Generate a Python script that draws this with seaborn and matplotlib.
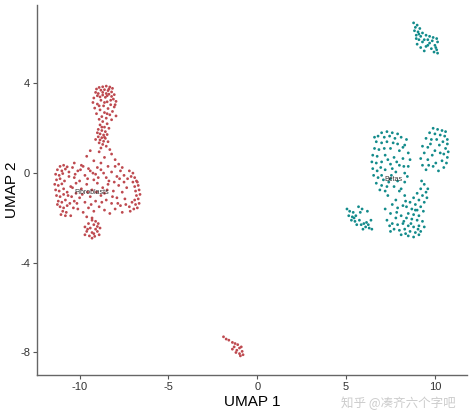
import numpy as np
import pandas as pd
import matplotlib
matplotlib.use("Agg")
import matplotlib.pyplot as plt
import seaborn as sns

# UMAP coordinates, grouped by cell type
fibroblast_pts = [
    # top blob
    (-8.9, 3.82), (-8.7, 3.85), (-8.5, 3.88), (-8.3, 3.84), (-8.15, 3.78), (-9.05, 3.75), (-8.8, 3.7),
    (-8.6, 3.72), (-8.4, 3.68), (-8.2, 3.62), (-9.1, 3.6), (-8.95, 3.55), (-8.05, 3.5), (-8.35, 3.52),
    (-8.7, 3.48), (-9.2, 3.35), (-8.55, 3.38), (-8.1, 3.3), (-7.95, 3.2), (-8.8, 3.25), (-9.25, 3.15),
    (-8.45, 3.18), (-8.25, 3.05), (-9.0, 3.08), (-8.65, 3.0), (-8.05, 2.95), (-9.15, 2.9), (-8.4, 2.88),
    (-8.85, 2.82), (-8.15, 2.75), (-8.6, 2.7), (-9.05, 2.65), (-8.3, 2.6), (-7.95, 2.55), (-8.75, 2.52),
    (-8.5, 2.45), (-8.9, 2.4), (-8.2, 2.38), (-8.7, 3.6), (-8.5, 3.55), (-8.35, 3.75), (-9.0, 3.45),
    (-8.2, 3.42), (-8.6, 3.15), (-8.0, 3.05), (-8.85, 3.4), (-8.45, 3.45), (-8.25, 3.25), (-8.9, 3.0),
    (-8.45, 2.65),
    # stem
    (-8.7, 2.3), (-8.45, 2.2), (-8.85, 2.15), (-8.6, 2.05), (-8.35, 2.0), (-8.95, 1.95), (-8.75, 1.9),
    (-8.55, 1.85), (-9.0, 1.8), (-8.85, 1.75), (-8.65, 1.7), (-8.45, 1.72), (-8.95, 1.62), (-8.75, 1.58),
    (-8.55, 1.55), (-8.85, 1.48), (-8.65, 1.42), (-8.4, 1.4), (-8.9, 1.35), (-8.7, 1.28), (-8.5, 1.2),
    (-8.8, 1.12), (-8.3, 1.05), (-9.1, 1.5), (-8.75, 2.05), (-8.6, 1.6),
    (-9.4, 1.0), (-8.9, 0.95), (-8.2, 0.85), (-9.6, 0.75), (-8.6, 0.7), (-8.0, 0.6), (-9.2, 0.55),
    (-8.8, 0.45), (-7.8, 0.4), (-9.9, 0.35), (-8.4, 0.3), (-7.6, 0.25), (-10.3, 0.45), (-9.5, 0.2),
    # main body, left edge
    (-11.1, 0.3), (-10.9, 0.35), (-10.7, 0.28), (-11.25, 0.15), (-11.0, 0.1), (-10.8, 0.18), (-11.35, -0.05),
    (-11.15, -0.1), (-10.95, -0.02), (-11.3, -0.3), (-11.1, -0.25), (-10.85, -0.35), (-11.4, -0.5),
    (-11.2, -0.55), (-11.0, -0.48), (-11.35, -0.75), (-11.15, -0.8), (-10.9, -0.7), (-11.3, -1.0),
    (-11.1, -1.05), (-10.9, -0.95), (-11.2, -1.25), (-11.0, -1.3), (-10.8, -1.2), (-11.1, -1.5),
    (-10.9, -1.55), (-10.7, -1.45), (-10.95, -1.7), (-10.75, -1.75), (-11.25, -1.4), (-10.6, -0.15),
    (-10.5, -0.6), (-10.65, -1.0), (-10.8, -1.9), (-11.05, -1.85),
    # main body, right edge
    (-7.2, 0.1), (-7.0, 0.0), (-7.1, -0.15), (-6.9, -0.2), (-6.8, -0.35), (-7.0, -0.4), (-6.7, -0.55),
    (-6.9, -0.6), (-6.65, -0.75), (-6.85, -0.8), (-6.6, -0.95), (-6.8, -1.0), (-6.7, -1.15), (-6.9, -1.2),
    (-6.65, -1.35), (-6.85, -1.4), (-7.05, -1.3), (-6.75, -1.55), (-6.95, -1.6), (-7.2, -1.5), (-7.4, -1.4),
    (-7.15, -1.7), (-7.3, -0.25), (-7.5, -0.1), (-6.75, -0.4),
    # main body, interior
    (-10.4, 0.25), (-10.1, 0.1), (-9.8, 0.3), (-10.3, -0.2), (-10.0, -0.35), (-9.7, -0.1), (-9.4, 0.1),
    (-9.1, -0.05), (-8.8, 0.15), (-8.5, -0.2), (-8.2, 0.05), (-7.9, -0.15), (-7.7, 0.1), (-10.4, -0.65),
    (-10.2, -0.9), (-9.9, -0.7), (-9.6, -0.5), (-9.3, -0.75), (-9.0, -0.45), (-8.7, -0.65), (-8.4, -0.5),
    (-8.1, -0.8), (-7.8, -0.55), (-7.6, -0.85), (-10.3, -1.25), (-10.0, -1.1), (-9.7, -1.3), (-9.4, -1.05),
    (-9.1, -1.25), (-8.8, -1.0), (-8.5, -1.2), (-8.2, -1.35), (-7.9, -1.1), (-7.7, -1.45), (-10.1, -1.6),
    (-9.8, -1.75), (-9.5, -1.55), (-9.2, -1.7), (-8.9, -1.5), (-8.6, -1.65), (-8.3, -1.8), (-8.0, -1.6),
    (-7.6, -1.75), (-9.6, -1.95), (-9.3, -2.0), (-10.5, -1.9), (-10.2, -0.45), (-9.2, -0.3), (-8.6, -0.9),
    (-7.5, -0.4), (-10.55, -1.35), (-8.0, 0.3), (-9.0, 0.25), (-10.7, -0.85),
    (-10.6, 0.05), (-10.25, -0.05), (-9.95, 0.15), (-9.55, -0.25), (-9.25, 0.0), (-8.95, -0.2),
    (-8.65, 0.0), (-8.35, -0.35), (-8.05, -0.4), (-7.75, -0.25), (-10.45, -1.05), (-10.15, -1.35),
    (-9.85, -0.95), (-9.55, -0.85), (-9.35, -1.4), (-9.05, -0.85), (-8.75, -1.3), (-8.45, -0.75),
    (-8.15, -1.05), (-7.85, -1.35), (-7.45, -1.15), (-7.35, -0.65), (-10.35, -1.55),
    # bottom blob
    (-9.3, -2.1), (-9.1, -2.15), (-9.5, -2.25), (-9.2, -2.3), (-8.95, -2.25), (-9.7, -2.4), (-9.4, -2.45),
    (-9.1, -2.5), (-8.85, -2.45), (-9.6, -2.6), (-9.3, -2.65), (-9.0, -2.6), (-9.7, -2.75), (-9.45, -2.8),
    (-9.15, -2.82), (-8.9, -2.75), (-9.3, -2.9), (-9.55, -2.5), (-9.0, -2.38), (-9.2, -2.7),
    # small satellite cluster
    (-1.9, -7.3), (-1.75, -7.4), (-1.6, -7.45), (-1.4, -7.55), (-1.25, -7.6), (-1.1, -7.65), (-1.3, -7.75),
    (-1.0, -7.8), (-0.9, -7.75), (-1.15, -7.9), (-0.85, -7.95), (-1.0, -8.05), (-0.8, -8.1), (-1.2, -8.0),
    (-0.95, -8.15), (-1.4, -7.85),
]

beta_pts = [
    # top island
    (8.8, 6.7), (9.0, 6.6), (8.9, 6.5), (9.15, 6.45), (8.85, 6.35), (9.05, 6.3), (9.3, 6.25), (8.95, 6.15),
    (9.2, 6.1), (9.5, 6.15), (9.7, 6.1), (9.9, 6.05), (10.1, 6.0), (9.1, 5.95), (9.6, 5.95), (9.85, 5.9),
    (10.15, 5.85), (9.3, 5.85), (9.7, 5.8), (9.0, 5.75), (10.0, 5.7), (9.5, 5.65), (9.8, 5.55), (10.1, 5.5),
    (9.4, 5.45), (9.95, 5.4), (10.15, 5.35), (9.2, 5.6), (8.95, 6.0), (10.05, 5.6), (9.1, 6.2), (9.6, 5.7),
    (9.4, 5.95),
    # left-top ring
    (7.0, 1.8), (7.3, 1.85), (7.6, 1.8), (7.9, 1.75), (6.8, 1.65), (7.15, 1.6), (7.45, 1.65), (7.75, 1.55),
    (8.1, 1.6), (8.4, 1.5), (6.7, 1.4), (7.0, 1.35), (7.3, 1.4), (7.9, 1.3), (8.3, 1.25), (6.6, 1.1),
    (6.85, 1.05), (7.5, 1.1), (8.0, 1.0), (8.5, 0.9), (6.5, 0.8), (6.75, 0.75), (7.2, 0.8), (7.7, 0.7),
    (8.2, 0.65), (6.45, 0.5), (6.7, 0.45), (7.0, 0.5), (7.5, 0.4), (8.0, 0.35), (8.5, 0.3), (6.5, 0.2),
    (6.75, 0.1), (7.2, 0.15), (7.8, 0.05), (8.3, 0.0), (6.55, -0.1), (6.8, -0.2), (7.1, -0.3), (7.5, -0.25),
    (7.9, -0.35), (8.3, -0.4), (6.7, -0.45), (7.0, -0.55), (7.3, -0.6), (7.7, -0.6), (8.1, -0.7), (6.9, -0.75),
    (7.4, -0.4), (7.6, 0.2), (6.6, 1.6), (7.0, -0.1), (8.6, 0.6),
    (7.15, 1.1), (7.65, 1.35), (8.2, 1.15), (6.95, 0.25), (7.35, 0.6), (7.85, 0.5), (8.25, 0.3),
    (7.55, -0.1), (8.45, -0.15), (7.2, -0.8),
    # right-top ring
    (9.9, 2.0), (10.15, 1.95), (10.4, 1.9), (10.6, 1.85), (9.7, 1.8), (10.0, 1.75), (10.3, 1.7), (10.55, 1.65),
    (10.7, 1.5), (9.5, 1.55), (9.8, 1.5), (10.45, 1.4), (10.7, 1.3), (9.3, 1.2), (9.6, 1.15), (10.6, 1.1),
    (10.75, 0.95), (9.4, 0.9), (10.5, 0.85), (10.7, 0.7), (9.2, 0.65), (9.6, 0.6), (10.4, 0.55), (10.65, 0.45),
    (9.3, 0.35), (9.9, 0.3), (10.5, 0.25), (10.2, 0.1), (9.5, 0.15), (10.0, 1.0), (10.25, 1.25),
    (9.75, 1.3), (10.1, 1.5), (9.85, 0.8), (10.3, 0.9), (10.05, 0.45), (9.65, 0.35),
    # bottom band
    (9.4, -0.5), (9.2, -0.7), (9.5, -0.85), (9.0, -0.9), (9.3, -1.0), (9.55, -1.1), (8.8, -1.1), (9.1, -1.2),
    (9.4, -1.3), (8.6, -1.3), (8.9, -1.4), (9.2, -1.5), (8.4, -1.5), (8.7, -1.6), (9.0, -1.65), (9.35, -1.7),
    (8.2, -1.45), (8.5, -1.8), (8.8, -1.85), (9.1, -1.9), (7.9, -1.55), (8.1, -1.9), (8.4, -2.0), (8.7, -2.05),
    (9.0, -2.1), (9.3, -2.15), (7.5, -1.8), (7.8, -2.0), (7.3, -2.1), (7.6, -2.25), (7.9, -2.3), (8.2, -2.25),
    (8.5, -2.35), (8.8, -2.4), (9.1, -2.35), (9.4, -2.4), (7.7, -2.5), (8.0, -2.55), (8.3, -2.5), (8.6, -2.6),
    (8.9, -2.65), (9.2, -2.6), (7.5, -2.6), (8.1, -2.75), (8.5, -2.8), (8.8, -2.85), (9.1, -2.75), (7.8, -1.2),
    (8.3, -1.0), (7.6, -1.4), (7.2, -1.6), (7.35, -1.0), (8.0, -0.8), (9.6, -0.7),
    (8.35, -1.25), (8.9, -1.65), (7.85, -1.75), (8.25, -2.15), (8.65, -2.25), (9.05, -2.5), (7.45, -2.35),
    (8.35, -2.7), (9.25, -0.35),
    # bottom-left arm
    (5.2, -1.7), (5.4, -1.75), (5.15, -1.9), (5.35, -1.95), (5.55, -1.9), (5.3, -2.1), (5.5, -2.15),
    (5.75, -2.1), (5.6, -2.3), (5.85, -2.3), (6.0, -2.25), (6.1, -2.4), (6.3, -2.45), (6.45, -2.5),
    (5.95, -2.5), (6.25, -2.3), (5.9, -1.6), (6.2, -1.7), (5.7, -1.5), (6.4, -2.1), (5.05, -1.6),
    (5.45, -2.0), (6.15, -2.2), (5.8, -1.75),
]

cell_types = ["Fibroblasts", "Betas"]
type_colors = ["#BE4A50", "#138B8B"]
label_pos = {"Fibroblasts": (-9.3, -0.85), "Betas": (7.65, -0.3)}

df = pd.concat([
    pd.DataFrame(fibroblast_pts, columns=["UMAP_1", "UMAP_2"]).assign(cell_type="Fibroblasts"),
    pd.DataFrame(beta_pts, columns=["UMAP_1", "UMAP_2"]).assign(cell_type="Betas"),
], ignore_index=True)

sns.set_style("ticks")
plt.rcParams["font.family"] = ["Liberation Sans", "DejaVu Sans"]
plt.rcParams["axes.unicode_minus"] = False

fig = plt.figure(figsize=(4.74, 4.12), dpi=100)
ax = fig.add_axes([0.078, 0.09, 0.907, 0.898])

sns.scatterplot(data=df, x="UMAP_1", y="UMAP_2", hue="cell_type",
                hue_order=cell_types, palette=type_colors,
                s=4, linewidth=0, legend=False, ax=ax)

for name, (lx, ly) in label_pos.items():
    ax.text(lx, ly, name, fontsize=5, color="#333333", ha="center", va="center")

ax.set_xlim(-12.4, 11.8)
ax.set_ylim(-9.0, 7.5)
ax.set_xticks([-10, -5, 0, 5, 10])
ax.set_yticks([-8, -4, 0, 4])
ax.set_xlabel("UMAP 1", fontsize=11, color="black", labelpad=2)
ax.set_ylabel("UMAP 2", fontsize=11, color="black", labelpad=1)
ax.tick_params(axis="both", which="both", direction="out", length=3, width=0.8,
               color="#555555", labelsize=8, labelcolor="#333333",
               top=False, right=False, pad=2)
ax.grid(False)
for side in ["top", "right"]:
    ax.spines[side].set_visible(False)
for side in ["left", "bottom"]:
    ax.spines[side].set_color("#666666")
    ax.spines[side].set_linewidth(1.0)
ax.set_facecolor("white")
fig.patch.set_facecolor("white")

fig.text(0.84, 0.022, "知乎 @凑齐六个字吧", fontsize=9, color="#CCCCCC",
         ha="center", va="center", family=["Noto Sans CJK SC", "DejaVu Sans"])

fig.savefig("out.png", dpi=100, facecolor="white")
